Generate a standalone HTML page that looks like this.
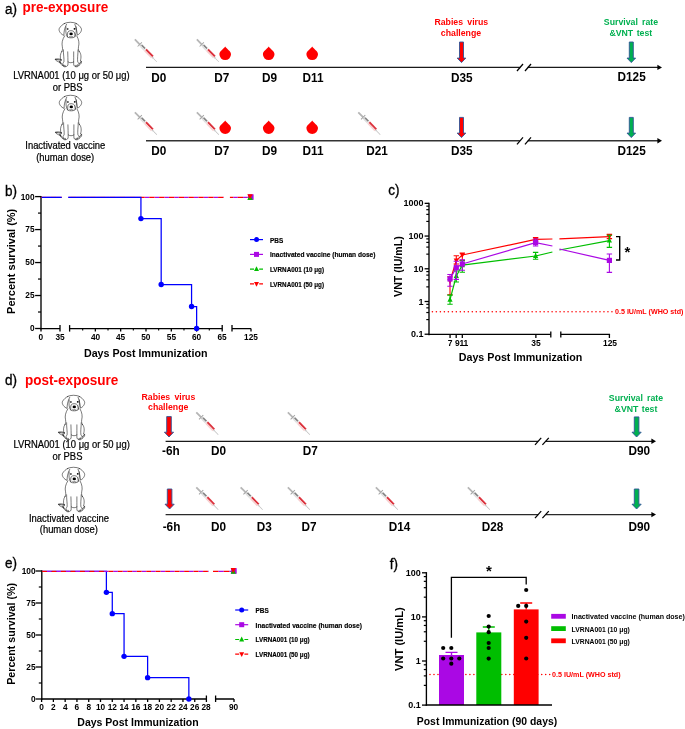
<!DOCTYPE html>
<html><head><meta charset="utf-8"><title>Figure</title>
<style>html,body{margin:0;padding:0;background:#fff}svg{display:block}text{font-family:"Liberation Sans",sans-serif}</style>
</head><body>
<svg width="685" height="729" viewBox="0 0 685 729" font-family="Liberation Sans, sans-serif">
<defs><g id="dog" fill="none" stroke="#111" stroke-width="7.5" stroke-linecap="round" stroke-linejoin="round">
<path d="M236,86 C275,62 365,62 404,86"/>
<path d="M244,84 C218,94 184,124 169,156 C160,186 192,232 233,246 C232,205 240,150 268,96"/>
<path d="M396,84 C422,94 456,124 469,156 C478,186 446,230 414,242 C412,205 402,150 381,96"/>
<path d="M261,130 C254,190 260,235 281,270 C305,282 350,282 376,270 C398,235 404,190 399,130"/>
<path d="M282,262 C280,240 282,215 287,200 C295,176 362,176 372,200 C378,215 382,240 384,258"/>
<path d="M308,262 C318,272 325,268 330,260 C335,268 344,272 354,262"/>
<path d="M243,252 C212,300 200,350 212,400 C218,430 212,448 205,465"/>
<path d="M407,252 C434,300 444,350 430,400 C425,430 432,448 440,465"/>
<path d="M206,460 C180,495 178,545 195,592 C170,602 170,628 216,652"/>
<path d="M439,460 C470,495 468,545 455,592 C478,602 476,628 434,652"/>
<path d="M226,440 C224,500 238,560 233,605 C206,632 210,668 245,670 C276,670 290,652 288,632 C284,570 290,515 285,468"/>
<path d="M365,468 C362,515 368,570 365,632 C363,652 376,670 405,670 C440,668 446,632 420,605 C412,560 424,500 424,440"/>
<path d="M290,604 C310,620 342,620 365,604"/>
<path d="M200,572 C170,560 128,560 114,568 C118,585 150,600 186,614"/>
<path d="M172,596 C174,610 186,620 200,624 M470,596 C468,610 456,620 442,624 M226,644 l6,16 M246,650 l3,14 M416,644 l-6,16 M396,650 l-3,14" stroke-width="10"/>
<path d="M118,570 C140,574 170,578 196,580" stroke-width="9"/>
<ellipse cx="330" cy="226" rx="23" ry="19" fill="#000" stroke="none"/>
<ellipse cx="284" cy="160" rx="13" ry="11" fill="#000" stroke="none"/>
<ellipse cx="377" cy="158" rx="13" ry="11" fill="#000" stroke="none"/>
</g><g id="syr">
<rect x="0" y="-0.9" width="6.8" height="1.8" fill="#b0b0b0"/>
<rect x="6.5" y="-3.0" width="0.9" height="6.0" fill="#999"/>
<rect x="7.4" y="-1.2" width="1.3" height="2.4" fill="#c4c4c4"/>
<rect x="8.7" y="-1.8" width="4.9" height="1.8" fill="#7a7a7a"/>
<rect x="8.7" y="0" width="4.9" height="1.6" fill="#dcdcdc"/>
<rect x="13.6" y="-1.8" width="1.3" height="3.4" fill="#e9e3e3"/>
<rect x="14.9" y="-1.9" width="9.9" height="2.0" fill="#d9212d"/>
<rect x="14.9" y="0.1" width="9.9" height="1.6" fill="#f7cccc"/>
<rect x="24.8" y="-0.8" width="1.4" height="1.6" fill="#c4c4c4"/>
<rect x="26.2" y="-0.3" width="5.2" height="0.6" fill="#b4b4b4"/>
</g></defs>
<rect width="685" height="729" fill="#fff"/>
<text transform="translate(5.1 13.7) scale(1 1.08)" font-size="13.5" font-weight="normal" fill="#000" text-anchor="start" stroke="#000" stroke-width="0.3">a)</text>
<text transform="translate(22.4 12.4) scale(1 1.06)" font-size="13.55" font-weight="bold" fill="#FF0000" text-anchor="start" >pre-exposure</text>
<use href="#dog" transform="translate(46.66,17.19) scale(0.07402)"/>
<text transform="translate(71.4 79.4) scale(1 1.08)" font-size="9.43" font-weight="normal" fill="#000" text-anchor="middle" stroke="#000" stroke-width="0.2">LVRNA001 (10 μg or 50 μg)</text>
<text transform="translate(67.6 91) scale(1 1.08)" font-size="9.43" font-weight="normal" fill="#000" text-anchor="middle" stroke="#000" stroke-width="0.2">or PBS</text>
<use href="#dog" transform="translate(46.86,90.19) scale(0.07402)"/>
<text transform="translate(65.3 149) scale(1 1.08)" font-size="9.43" font-weight="normal" fill="#000" text-anchor="middle" stroke="#000" stroke-width="0.2">Inactivated vaccine</text>
<text transform="translate(65.2 160.6) scale(1 1.08)" font-size="9.43" font-weight="normal" fill="#000" text-anchor="middle" stroke="#000" stroke-width="0.2">(human dose)</text>
<path d="M146,67.4 H519.8 M527.8,67.4 H659" stroke="#1a1a1a" stroke-width="1.35" fill="none"/>
<polygon points="662,67.4 657.4,64.7 657.4,70.10000000000001" fill="#000"/>
<line x1="517" y1="71.0" x2="523" y2="64.0" stroke="#000" stroke-width="1.25"/>
<line x1="525" y1="71.0" x2="531" y2="64.0" stroke="#000" stroke-width="1.25"/>
<path d="M146,140.8 H519.8 M527.8,140.8 H659" stroke="#333" stroke-width="1.5" fill="none"/>
<polygon points="662,140.8 657.4,138.10000000000002 657.4,143.5" fill="#000"/>
<line x1="517" y1="144.4" x2="523" y2="137.4" stroke="#000" stroke-width="1.25"/>
<line x1="525" y1="144.4" x2="531" y2="137.4" stroke="#000" stroke-width="1.25"/>
<use href="#syr" opacity="0.92" transform="translate(134.87,39.49) rotate(45.5)"/>
<use href="#syr" opacity="0.92" transform="translate(196.87,39.49) rotate(45.5)"/>
<use href="#syr" opacity="0.92" transform="translate(134.87,112.29) rotate(45.5)"/>
<use href="#syr" opacity="0.92" transform="translate(196.87,112.29) rotate(45.5)"/>
<use href="#syr" opacity="0.92" transform="translate(358.27,112.29) rotate(45.5)"/>
<path transform="translate(225.2,46.6)" d="M0,0 C1.6,2.6 5.8,4.6 5.8,7.7 A5.8,5.8 0 1 1 -5.8,7.7 C-5.8,4.6 -1.6,2.6 0,0 Z" fill="#FF0000"/>
<path transform="translate(225.2,120.4)" d="M0,0 C1.6,2.6 5.8,4.6 5.8,7.7 A5.8,5.8 0 1 1 -5.8,7.7 C-5.8,4.6 -1.6,2.6 0,0 Z" fill="#FF0000"/>
<path transform="translate(268.7,46.6)" d="M0,0 C1.6,2.6 5.8,4.6 5.8,7.7 A5.8,5.8 0 1 1 -5.8,7.7 C-5.8,4.6 -1.6,2.6 0,0 Z" fill="#FF0000"/>
<path transform="translate(268.7,120.4)" d="M0,0 C1.6,2.6 5.8,4.6 5.8,7.7 A5.8,5.8 0 1 1 -5.8,7.7 C-5.8,4.6 -1.6,2.6 0,0 Z" fill="#FF0000"/>
<path transform="translate(312.2,46.6)" d="M0,0 C1.6,2.6 5.8,4.6 5.8,7.7 A5.8,5.8 0 1 1 -5.8,7.7 C-5.8,4.6 -1.6,2.6 0,0 Z" fill="#FF0000"/>
<path transform="translate(312.2,120.4)" d="M0,0 C1.6,2.6 5.8,4.6 5.8,7.7 A5.8,5.8 0 1 1 -5.8,7.7 C-5.8,4.6 -1.6,2.6 0,0 Z" fill="#FF0000"/>
<text transform="translate(158.8 82) scale(1 1.08)" font-size="11.8" font-weight="bold" fill="#000" text-anchor="middle" >D0</text>
<text transform="translate(221.7 82) scale(1 1.08)" font-size="11.8" font-weight="bold" fill="#000" text-anchor="middle" >D7</text>
<text transform="translate(269.5 82) scale(1 1.08)" font-size="11.8" font-weight="bold" fill="#000" text-anchor="middle" >D9</text>
<text transform="translate(313 82) scale(1 1.08)" font-size="11.8" font-weight="bold" fill="#000" text-anchor="middle" >D11</text>
<text transform="translate(461.7 82) scale(1 1.08)" font-size="11.8" font-weight="bold" fill="#000" text-anchor="middle" >D35</text>
<text transform="translate(631.6 81) scale(1 1.08)" font-size="11.8" font-weight="bold" fill="#000" text-anchor="middle" >D125</text>
<text transform="translate(158.8 155.3) scale(1 1.08)" font-size="11.8" font-weight="bold" fill="#000" text-anchor="middle" >D0</text>
<text transform="translate(221.7 155.3) scale(1 1.08)" font-size="11.8" font-weight="bold" fill="#000" text-anchor="middle" >D7</text>
<text transform="translate(269.5 155.3) scale(1 1.08)" font-size="11.8" font-weight="bold" fill="#000" text-anchor="middle" >D9</text>
<text transform="translate(313 155.3) scale(1 1.08)" font-size="11.8" font-weight="bold" fill="#000" text-anchor="middle" >D11</text>
<text transform="translate(377 155.3) scale(1 1.08)" font-size="11.8" font-weight="bold" fill="#000" text-anchor="middle" >D21</text>
<text transform="translate(461.7 155.3) scale(1 1.08)" font-size="11.8" font-weight="bold" fill="#000" text-anchor="middle" >D35</text>
<text transform="translate(631.6 155.3) scale(1 1.08)" font-size="11.8" font-weight="bold" fill="#000" text-anchor="middle" >D125</text>
<text transform="translate(461.3 25) scale(1 1.09)" font-size="8.75" font-weight="bold" fill="#FF0000" text-anchor="middle" word-spacing="1.8">Rabies virus</text>
<text transform="translate(461 36) scale(1 1.09)" font-size="8.75" font-weight="bold" fill="#FF0000" text-anchor="middle" >challenge</text>
<text transform="translate(631 25) scale(1 1.09)" font-size="8.75" font-weight="bold" fill="#00B050" text-anchor="middle" word-spacing="1.8">Survival rate</text>
<text transform="translate(630.8 36) scale(1 1.09)" font-size="8.75" font-weight="bold" fill="#00B050" text-anchor="middle" word-spacing="1">&amp;VNT test</text>
<polygon points="459.50,42.00 463.50,42.00 463.50,58.10 465.80,58.10 461.50,62.60 457.20,58.10 459.50,58.10" fill="#FF0000" stroke="#2F5597" stroke-width="0.9" stroke-linejoin="miter"/>
<polygon points="629.30,42.00 633.30,42.00 633.30,58.10 635.60,58.10 631.30,62.60 627.00,58.10 629.30,58.10" fill="#00B050" stroke="#2F5597" stroke-width="0.9" stroke-linejoin="miter"/>
<polygon points="459.50,117.40 463.50,117.40 463.50,133.10 465.80,133.10 461.50,137.60 457.20,133.10 459.50,133.10" fill="#FF0000" stroke="#2F5597" stroke-width="0.9" stroke-linejoin="miter"/>
<polygon points="629.30,117.40 633.30,117.40 633.30,133.10 635.60,133.10 631.30,137.60 627.00,133.10 629.30,133.10" fill="#00B050" stroke="#2F5597" stroke-width="0.9" stroke-linejoin="miter"/>
<text transform="translate(5.1 385) scale(1 1.08)" font-size="13.5" font-weight="normal" fill="#000" text-anchor="start" stroke="#000" stroke-width="0.3">d)</text>
<text transform="translate(25 384.6) scale(1 1.06)" font-size="13.55" font-weight="bold" fill="#FF0000" text-anchor="start" >post-exposure</text>
<use href="#dog" transform="translate(49.86,390.19) scale(0.07402)"/>
<text transform="translate(71.6 448) scale(1 1.08)" font-size="9.43" font-weight="normal" fill="#000" text-anchor="middle" stroke="#000" stroke-width="0.2">LVRNA001 (10 μg or 50 μg)</text>
<text transform="translate(67.5 459.6) scale(1 1.08)" font-size="9.43" font-weight="normal" fill="#000" text-anchor="middle" stroke="#000" stroke-width="0.2">or PBS</text>
<use href="#dog" transform="translate(49.86,462.19) scale(0.07402)"/>
<text transform="translate(69 521.6) scale(1 1.08)" font-size="9.43" font-weight="normal" fill="#000" text-anchor="middle" stroke="#000" stroke-width="0.2">Inactivated vaccine</text>
<text transform="translate(68.8 533) scale(1 1.08)" font-size="9.43" font-weight="normal" fill="#000" text-anchor="middle" stroke="#000" stroke-width="0.2">(human dose)</text>
<path d="M165.6,441.3 H538.2 M545.6,441.3 H653" stroke="#1a1a1a" stroke-width="1.3" fill="none"/>
<polygon points="656,441.3 651.4,438.6 651.4,444.0" fill="#000"/>
<line x1="535" y1="444.90000000000003" x2="541.2" y2="437.90000000000003" stroke="#000" stroke-width="1.25"/>
<line x1="542.4" y1="444.90000000000003" x2="548.8" y2="437.90000000000003" stroke="#000" stroke-width="1.25"/>
<path d="M165.6,514.6 H538.2 M545.6,514.6 H653" stroke="#2a2a2a" stroke-width="1.4" fill="none"/>
<polygon points="656,514.6 651.4,511.90000000000003 651.4,517.3000000000001" fill="#000"/>
<line x1="535" y1="518.2" x2="541.2" y2="511.20000000000005" stroke="#000" stroke-width="1.25"/>
<line x1="542.4" y1="518.2" x2="548.8" y2="511.20000000000005" stroke="#000" stroke-width="1.25"/>
<use href="#syr" opacity="0.92" transform="translate(196.27,412.29) rotate(45.5)"/>
<use href="#syr" opacity="0.92" transform="translate(287.87,412.29) rotate(45.5)"/>
<use href="#syr" opacity="0.92" transform="translate(196.27,487.29) rotate(45.5)"/>
<use href="#syr" opacity="0.92" transform="translate(240.67,487.29) rotate(45.5)"/>
<use href="#syr" opacity="0.92" transform="translate(287.87,487.29) rotate(45.5)"/>
<use href="#syr" opacity="0.92" transform="translate(375.87,487.29) rotate(45.5)"/>
<use href="#syr" opacity="0.92" transform="translate(467.87,487.29) rotate(45.5)"/>
<text transform="translate(170.8 454.6) scale(1 1.08)" font-size="11.8" font-weight="bold" fill="#000" text-anchor="middle" >-6h</text>
<text transform="translate(218.5 454.6) scale(1 1.08)" font-size="11.8" font-weight="bold" fill="#000" text-anchor="middle" >D0</text>
<text transform="translate(310.3 454.6) scale(1 1.08)" font-size="11.8" font-weight="bold" fill="#000" text-anchor="middle" >D7</text>
<text transform="translate(639.2 454.6) scale(1 1.08)" font-size="11.8" font-weight="bold" fill="#000" text-anchor="middle" >D90</text>
<text transform="translate(171.5 530.5) scale(1 1.08)" font-size="11.8" font-weight="bold" fill="#000" text-anchor="middle" >-6h</text>
<text transform="translate(218.5 530.5) scale(1 1.08)" font-size="11.8" font-weight="bold" fill="#000" text-anchor="middle" >D0</text>
<text transform="translate(264.2 530.5) scale(1 1.08)" font-size="11.8" font-weight="bold" fill="#000" text-anchor="middle" >D3</text>
<text transform="translate(309 530.5) scale(1 1.08)" font-size="11.8" font-weight="bold" fill="#000" text-anchor="middle" >D7</text>
<text transform="translate(399.5 530.5) scale(1 1.08)" font-size="11.8" font-weight="bold" fill="#000" text-anchor="middle" >D14</text>
<text transform="translate(492.5 530.5) scale(1 1.08)" font-size="11.8" font-weight="bold" fill="#000" text-anchor="middle" >D28</text>
<text transform="translate(639.2 530.5) scale(1 1.08)" font-size="11.8" font-weight="bold" fill="#000" text-anchor="middle" >D90</text>
<text transform="translate(168.4 399.6) scale(1 1.09)" font-size="8.75" font-weight="bold" fill="#FF0000" text-anchor="middle" word-spacing="1.8">Rabies virus</text>
<text transform="translate(168.2 410.4) scale(1 1.09)" font-size="8.75" font-weight="bold" fill="#FF0000" text-anchor="middle" >challenge</text>
<text transform="translate(636 401.2) scale(1 1.09)" font-size="8.75" font-weight="bold" fill="#00B050" text-anchor="middle" word-spacing="1.8">Survival rate</text>
<text transform="translate(636 412) scale(1 1.09)" font-size="8.75" font-weight="bold" fill="#00B050" text-anchor="middle" word-spacing="1">&amp;VNT test</text>
<polygon points="166.70,416.60 171.30,416.60 171.30,432.20 173.60,432.20 169.00,437.00 164.40,432.20 166.70,432.20" fill="#FF0000" stroke="#2F5597" stroke-width="0.9" stroke-linejoin="miter"/>
<polygon points="634.30,416.90 638.90,416.90 638.90,432.20 641.20,432.20 636.60,437.00 632.00,432.20 634.30,432.20" fill="#00B050" stroke="#2F5597" stroke-width="0.9" stroke-linejoin="miter"/>
<polygon points="167.30,489.00 171.90,489.00 171.90,504.20 174.20,504.20 169.60,509.00 165.00,504.20 167.30,504.20" fill="#FF0000" stroke="#2F5597" stroke-width="0.9" stroke-linejoin="miter"/>
<polygon points="634.30,489.00 638.90,489.00 638.90,504.20 641.20,504.20 636.60,509.00 632.00,504.20 634.30,504.20" fill="#00B050" stroke="#2F5597" stroke-width="0.9" stroke-linejoin="miter"/>
<text transform="translate(5.1 195.6) scale(1 1.08)" font-size="13.5" font-weight="normal" fill="#000" text-anchor="start" stroke="#000" stroke-width="0.3">b)</text>
<path d="M41,195.9 V329.25" stroke="#000" stroke-width="1.35" fill="none"/>
<line x1="35.1" y1="328.50" x2="41" y2="328.50" stroke="#000" stroke-width="1.3"/>
<text transform="translate(34.5 331.4) scale(1 1.04)" font-size="8.3" font-weight="bold" fill="#000" text-anchor="end" >0</text>
<line x1="35.1" y1="295.52" x2="41" y2="295.52" stroke="#000" stroke-width="1.3"/>
<text transform="translate(34.5 298.42) scale(1 1.04)" font-size="8.3" font-weight="bold" fill="#000" text-anchor="end" >25</text>
<line x1="35.1" y1="262.55" x2="41" y2="262.55" stroke="#000" stroke-width="1.3"/>
<text transform="translate(34.5 265.45) scale(1 1.04)" font-size="8.3" font-weight="bold" fill="#000" text-anchor="end" >50</text>
<line x1="35.1" y1="229.57" x2="41" y2="229.57" stroke="#000" stroke-width="1.3"/>
<text transform="translate(34.5 232.47) scale(1 1.04)" font-size="8.3" font-weight="bold" fill="#000" text-anchor="end" >75</text>
<line x1="35.1" y1="196.60" x2="41" y2="196.60" stroke="#000" stroke-width="1.3"/>
<text transform="translate(34.5 199.5) scale(1 1.04)" font-size="8.3" font-weight="bold" fill="#000" text-anchor="end" >100</text>
<line x1="38" y1="312.01" x2="41" y2="312.01" stroke="#000" stroke-width="1.2"/>
<line x1="38" y1="279.04" x2="41" y2="279.04" stroke="#000" stroke-width="1.2"/>
<line x1="38" y1="246.06" x2="41" y2="246.06" stroke="#000" stroke-width="1.2"/>
<line x1="38" y1="213.09" x2="41" y2="213.09" stroke="#000" stroke-width="1.2"/>
<path d="M40.3,328.6 H60 M69.6,328.6 H222.2 M232,328.6 H251" stroke="#000" stroke-width="1.35" fill="none"/>
<line x1="60" y1="325.1" x2="60" y2="331.6" stroke="#000" stroke-width="1.3"/>
<line x1="69.6" y1="325.1" x2="69.6" y2="331.6" stroke="#000" stroke-width="1.3"/>
<line x1="222.2" y1="325.1" x2="222.2" y2="331.6" stroke="#000" stroke-width="1.3"/>
<line x1="232" y1="325.1" x2="232" y2="331.6" stroke="#000" stroke-width="1.3"/>
<line x1="41" y1="328.6" x2="41" y2="331.6" stroke="#000" stroke-width="1.3"/>
<line x1="251" y1="328.6" x2="251" y2="331.6" stroke="#000" stroke-width="1.3"/>
<line x1="95.35" y1="328.6" x2="95.35" y2="331.6" stroke="#000" stroke-width="1.3"/>
<line x1="120.67" y1="328.6" x2="120.67" y2="331.6" stroke="#000" stroke-width="1.3"/>
<line x1="145.99" y1="328.6" x2="145.99" y2="331.6" stroke="#000" stroke-width="1.3"/>
<line x1="171.31" y1="328.6" x2="171.31" y2="331.6" stroke="#000" stroke-width="1.3"/>
<line x1="196.63" y1="328.6" x2="196.63" y2="331.6" stroke="#000" stroke-width="1.3"/>
<line x1="82.69" y1="328.6" x2="82.69" y2="330.6" stroke="#000" stroke-width="1.1"/>
<line x1="108.01" y1="328.6" x2="108.01" y2="330.6" stroke="#000" stroke-width="1.1"/>
<line x1="133.33" y1="328.6" x2="133.33" y2="330.6" stroke="#000" stroke-width="1.1"/>
<line x1="158.65" y1="328.6" x2="158.65" y2="330.6" stroke="#000" stroke-width="1.1"/>
<line x1="183.97" y1="328.6" x2="183.97" y2="330.6" stroke="#000" stroke-width="1.1"/>
<line x1="209.29" y1="328.6" x2="209.29" y2="330.6" stroke="#000" stroke-width="1.1"/>
<text x="40.8" y="340" font-size="8.3" font-weight="bold" fill="#000" text-anchor="middle" >0</text>
<text x="60" y="340" font-size="8.3" font-weight="bold" fill="#000" text-anchor="middle" >35</text>
<text x="95.5" y="340" font-size="8.3" font-weight="bold" fill="#000" text-anchor="middle" >40</text>
<text x="120.6" y="340" font-size="8.3" font-weight="bold" fill="#000" text-anchor="middle" >45</text>
<text x="145.8" y="340" font-size="8.3" font-weight="bold" fill="#000" text-anchor="middle" >50</text>
<text x="171.4" y="340" font-size="8.3" font-weight="bold" fill="#000" text-anchor="middle" >55</text>
<text x="196.5" y="340" font-size="8.3" font-weight="bold" fill="#000" text-anchor="middle" >60</text>
<text x="222" y="340" font-size="8.3" font-weight="bold" fill="#000" text-anchor="middle" >65</text>
<text x="251" y="340" font-size="8.3" font-weight="bold" fill="#000" text-anchor="middle" >125</text>
<text x="145.7" y="357" font-size="10.7" font-weight="bold" fill="#000" text-anchor="middle" >Days Post Immunization</text>
<text transform="translate(14.8,261.3) rotate(-90)" font-size="11" font-weight="bold" fill="#000" text-anchor="middle" >Percent survival (%)</text>
<path d="M41,197.45 H250.5" stroke="#AA08E4" stroke-width="1.2" fill="none" stroke-dasharray="4.54 5.3" stroke-dashoffset="-5.3"/>
<path d="M41,197.45 H250.5" stroke="#FF0000" stroke-width="1.2" fill="none" stroke-dasharray="5.3 4.54"/>
<rect x="61.7" y="195.95" width="6.6" height="3" fill="#fff"/><rect x="223.8" y="195.95" width="6.1" height="3" fill="#fff"/>
<path d="M41.5,197.45 H61.7 M68.3,197.45 H140.93 H140.93 V218.59 H161.18 V284.54 H191.57 V306.51 H196.63 V328.50" stroke="#0000FF" stroke-width="1.25" fill="none"/>
<circle cx="140.93" cy="218.59" r="2.7" fill="#0000FF"/>
<circle cx="161.18" cy="284.54" r="2.7" fill="#0000FF"/>
<circle cx="191.57" cy="306.51" r="2.7" fill="#0000FF"/>
<circle cx="196.63" cy="328.5" r="2.7" fill="#0000FF"/>
<rect x="248.0" y="194.3" width="5.60" height="5.60" fill="#AA08E4"/>
<polygon points="247.3,199.9 252.7,199.9 250.0,194.60000000000002" fill="#00BE00"/>
<polygon points="247.3,194.3 252.7,194.3 250.0,199.3" fill="#FF0000"/>
<line x1="250.0" y1="239.6" x2="263.0" y2="239.6" stroke="#0000FF" stroke-width="1.2"/>
<circle cx="256.5" cy="239.6" r="2.5" fill="#0000FF"/>
<text x="270" y="242.5" font-size="6.4" font-weight="bold" fill="#000" text-anchor="start"  stroke="#000" stroke-width="0.15">PBS</text>
<line x1="250.0" y1="254.4" x2="263.0" y2="254.4" stroke="#AA08E4" stroke-width="1.2"/>
<rect x="254.0" y="251.9" width="5.0" height="5.0" fill="#AA08E4"/>
<text x="270" y="257.3" font-size="6.4" font-weight="bold" fill="#000" text-anchor="start" textLength="105.5" lengthAdjust="spacingAndGlyphs" stroke="#000" stroke-width="0.15">Inactivated vaccine (human dose)</text>
<path d="M250.0,269.1 h4 M259.2,269.1 h3.8" stroke="#00BE00" stroke-width="1.2"/>
<polygon points="256.5,266.20000000000005 259.0,271.0 254.0,271.0" fill="#00BE00"/>
<text x="270" y="272.0" font-size="6.4" font-weight="bold" fill="#000" text-anchor="start" textLength="54" lengthAdjust="spacingAndGlyphs" stroke="#000" stroke-width="0.15">LVRNA001 (10 μg)</text>
<path d="M250.0,283.8 h4 M259.2,283.8 h3.8" stroke="#FF0000" stroke-width="1.2"/>
<polygon points="256.5,286.7 259.0,281.90000000000003 254.0,281.90000000000003" fill="#FF0000"/>
<text x="270" y="286.7" font-size="6.4" font-weight="bold" fill="#000" text-anchor="start" textLength="54" lengthAdjust="spacingAndGlyphs" stroke="#000" stroke-width="0.15">LVRNA001 (50 μg)</text>
<text transform="translate(5.1 568.4) scale(1 1.08)" font-size="13.5" font-weight="normal" fill="#000" text-anchor="start" stroke="#000" stroke-width="0.3">e)</text>
<path d="M41.8,570.3 V699.75" stroke="#000" stroke-width="1.35" fill="none"/>
<line x1="35.6" y1="699.00" x2="41.8" y2="699.00" stroke="#000" stroke-width="1.3"/>
<text transform="translate(35.5 701.9) scale(1 1.04)" font-size="8.3" font-weight="bold" fill="#000" text-anchor="end" >0</text>
<line x1="35.6" y1="667.00" x2="41.8" y2="667.00" stroke="#000" stroke-width="1.3"/>
<text transform="translate(35.5 669.9) scale(1 1.04)" font-size="8.3" font-weight="bold" fill="#000" text-anchor="end" >25</text>
<line x1="35.6" y1="635.00" x2="41.8" y2="635.00" stroke="#000" stroke-width="1.3"/>
<text transform="translate(35.5 637.9) scale(1 1.04)" font-size="8.3" font-weight="bold" fill="#000" text-anchor="end" >50</text>
<line x1="35.6" y1="603.00" x2="41.8" y2="603.00" stroke="#000" stroke-width="1.3"/>
<text transform="translate(35.5 605.9) scale(1 1.04)" font-size="8.3" font-weight="bold" fill="#000" text-anchor="end" >75</text>
<line x1="35.6" y1="571.00" x2="41.8" y2="571.00" stroke="#000" stroke-width="1.3"/>
<text transform="translate(35.5 573.9) scale(1 1.04)" font-size="8.3" font-weight="bold" fill="#000" text-anchor="end" >100</text>
<line x1="38.8" y1="683.00" x2="41.8" y2="683.00" stroke="#000" stroke-width="1.2"/>
<line x1="38.8" y1="651.00" x2="41.8" y2="651.00" stroke="#000" stroke-width="1.2"/>
<line x1="38.8" y1="619.00" x2="41.8" y2="619.00" stroke="#000" stroke-width="1.2"/>
<line x1="38.8" y1="587.00" x2="41.8" y2="587.00" stroke="#000" stroke-width="1.2"/>
<path d="M41.1,699 H206.4 M215.6,699 H234" stroke="#000" stroke-width="1.35" fill="none"/>
<line x1="206.4" y1="695.5" x2="206.4" y2="702" stroke="#000" stroke-width="1.3"/>
<line x1="215.6" y1="695.5" x2="215.6" y2="702" stroke="#000" stroke-width="1.3"/>
<line x1="234" y1="699" x2="234" y2="702" stroke="#000" stroke-width="1.3"/>
<line x1="41.60" y1="699" x2="41.60" y2="702" stroke="#000" stroke-width="1.3"/>
<text x="41.6" y="709.6" font-size="8.3" font-weight="bold" fill="#000" text-anchor="middle" >0</text>
<line x1="53.38" y1="699" x2="53.38" y2="702" stroke="#000" stroke-width="1.3"/>
<text x="53.4" y="709.6" font-size="8.3" font-weight="bold" fill="#000" text-anchor="middle" >2</text>
<line x1="65.16" y1="699" x2="65.16" y2="702" stroke="#000" stroke-width="1.3"/>
<text x="65.2" y="709.6" font-size="8.3" font-weight="bold" fill="#000" text-anchor="middle" >4</text>
<line x1="76.94" y1="699" x2="76.94" y2="702" stroke="#000" stroke-width="1.3"/>
<text x="76.9" y="709.6" font-size="8.3" font-weight="bold" fill="#000" text-anchor="middle" >6</text>
<line x1="88.72" y1="699" x2="88.72" y2="702" stroke="#000" stroke-width="1.3"/>
<text x="88.7" y="709.6" font-size="8.3" font-weight="bold" fill="#000" text-anchor="middle" >8</text>
<line x1="100.50" y1="699" x2="100.50" y2="702" stroke="#000" stroke-width="1.3"/>
<text x="100.5" y="709.6" font-size="8.3" font-weight="bold" fill="#000" text-anchor="middle" >10</text>
<line x1="112.28" y1="699" x2="112.28" y2="702" stroke="#000" stroke-width="1.3"/>
<text x="112.3" y="709.6" font-size="8.3" font-weight="bold" fill="#000" text-anchor="middle" >12</text>
<line x1="124.06" y1="699" x2="124.06" y2="702" stroke="#000" stroke-width="1.3"/>
<text x="124.1" y="709.6" font-size="8.3" font-weight="bold" fill="#000" text-anchor="middle" >14</text>
<line x1="135.84" y1="699" x2="135.84" y2="702" stroke="#000" stroke-width="1.3"/>
<text x="135.8" y="709.6" font-size="8.3" font-weight="bold" fill="#000" text-anchor="middle" >16</text>
<line x1="147.62" y1="699" x2="147.62" y2="702" stroke="#000" stroke-width="1.3"/>
<text x="147.6" y="709.6" font-size="8.3" font-weight="bold" fill="#000" text-anchor="middle" >18</text>
<line x1="159.40" y1="699" x2="159.40" y2="702" stroke="#000" stroke-width="1.3"/>
<text x="159.4" y="709.6" font-size="8.3" font-weight="bold" fill="#000" text-anchor="middle" >20</text>
<line x1="171.18" y1="699" x2="171.18" y2="702" stroke="#000" stroke-width="1.3"/>
<text x="171.2" y="709.6" font-size="8.3" font-weight="bold" fill="#000" text-anchor="middle" >22</text>
<line x1="182.96" y1="699" x2="182.96" y2="702" stroke="#000" stroke-width="1.3"/>
<text x="183.0" y="709.6" font-size="8.3" font-weight="bold" fill="#000" text-anchor="middle" >24</text>
<line x1="194.74" y1="699" x2="194.74" y2="702" stroke="#000" stroke-width="1.3"/>
<text x="194.7" y="709.6" font-size="8.3" font-weight="bold" fill="#000" text-anchor="middle" >26</text>
<text x="206" y="709.6" font-size="8.3" font-weight="bold" fill="#000" text-anchor="middle" >28</text>
<text x="233.6" y="709.6" font-size="8.3" font-weight="bold" fill="#000" text-anchor="middle" >90</text>
<text x="138" y="726.4" font-size="10.5" font-weight="bold" fill="#000" text-anchor="middle" >Days Post Immunization</text>
<text transform="translate(15.4,633.9) rotate(-90)" font-size="10.65" font-weight="bold" fill="#000" text-anchor="middle" >Percent survival (%)</text>
<path d="M42.3,571.45 H106.39 H106.39 V592.34 H112.28 V613.66 H124.06 V656.34 H147.62 V677.66 H188.85 V699.00" stroke="#0000FF" stroke-width="1.25" fill="none"/>
<path d="M42.1,571.45 H233.8" stroke="#AA08E4" stroke-width="1.2" fill="none" stroke-dasharray="4.67 4.8" stroke-dashoffset="-4.8"/>
<path d="M42.1,571.45 H233.8" stroke="#FF0000" stroke-width="1.2" fill="none" stroke-dasharray="4.8 4.67"/>
<rect x="208.6" y="569.95" width="26" height="3" fill="#fff"/>
<path d="M218.3,571.45 H223.8 M229.2,571.45 H233" stroke="#AA08E4" stroke-width="1.2" fill="none"/>
<path d="M213,571.45 H218.3 M223.8,571.45 H229.2" stroke="#FF0000" stroke-width="1.2" fill="none"/>
<circle cx="106.39" cy="592.34" r="2.7" fill="#0000FF"/>
<circle cx="112.28" cy="613.66" r="2.7" fill="#0000FF"/>
<circle cx="124.06" cy="656.34" r="2.7" fill="#0000FF"/>
<circle cx="147.62" cy="677.66" r="2.7" fill="#0000FF"/>
<circle cx="188.85" cy="699.0" r="2.7" fill="#0000FF"/>
<rect x="231.1" y="568.1" width="5.60" height="5.70" fill="#AA08E4"/>
<polygon points="230.6,573.8 235.9,573.8 233.25,568.4" fill="#00BE00"/>
<polygon points="230.6,568.1 235.9,568.1 233.25,573.1999999999999" fill="#FF0000"/>
<line x1="235.2" y1="610" x2="248.2" y2="610" stroke="#0000FF" stroke-width="1.2"/>
<circle cx="241.7" cy="610" r="2.5" fill="#0000FF"/>
<text x="255.6" y="612.9" font-size="6.4" font-weight="bold" fill="#000" text-anchor="start"  stroke="#000" stroke-width="0.15">PBS</text>
<line x1="235.2" y1="624.7" x2="248.2" y2="624.7" stroke="#AA08E4" stroke-width="1.2"/>
<rect x="239.2" y="622.2" width="5.0" height="5.0" fill="#AA08E4"/>
<text x="255.6" y="627.6" font-size="6.4" font-weight="bold" fill="#000" text-anchor="start" textLength="106.4" lengthAdjust="spacingAndGlyphs" stroke="#000" stroke-width="0.15">Inactivated vaccine (human dose)</text>
<path d="M235.2,639.5 h4 M244.39999999999998,639.5 h3.8" stroke="#00BE00" stroke-width="1.2"/>
<polygon points="241.7,636.6 244.2,641.4 239.2,641.4" fill="#00BE00"/>
<text x="255.6" y="642.4" font-size="6.4" font-weight="bold" fill="#000" text-anchor="start" textLength="54" lengthAdjust="spacingAndGlyphs" stroke="#000" stroke-width="0.15">LVRNA001 (10 μg)</text>
<path d="M235.2,654.1 h4 M244.39999999999998,654.1 h3.8" stroke="#FF0000" stroke-width="1.2"/>
<polygon points="241.7,657.0 244.2,652.2 239.2,652.2" fill="#FF0000"/>
<text x="255.6" y="657.0" font-size="6.4" font-weight="bold" fill="#000" text-anchor="start" textLength="54" lengthAdjust="spacingAndGlyphs" stroke="#000" stroke-width="0.15">LVRNA001 (50 μg)</text>
<text transform="translate(388.2 195.4) scale(1 1.08)" font-size="13.5" font-weight="normal" fill="#000" text-anchor="start" stroke="#000" stroke-width="0.3">c)</text>
<path d="M429,202.64000000000001 V335.15" stroke="#000" stroke-width="1.35" fill="none"/>
<line x1="424.6" y1="334.22" x2="429" y2="334.22" stroke="#000" stroke-width="1.3"/>
<text transform="translate(423.4 337.37) scale(1 1.05)" font-size="9.0" font-weight="bold" fill="#000" text-anchor="end" >0.1</text>
<line x1="424.6" y1="301.50" x2="429" y2="301.50" stroke="#000" stroke-width="1.3"/>
<text transform="translate(423.4 304.65) scale(1 1.05)" font-size="9.0" font-weight="bold" fill="#000" text-anchor="end" >1</text>
<line x1="424.6" y1="268.78" x2="429" y2="268.78" stroke="#000" stroke-width="1.3"/>
<text transform="translate(423.4 271.93) scale(1 1.05)" font-size="9.0" font-weight="bold" fill="#000" text-anchor="end" >10</text>
<line x1="424.6" y1="236.06" x2="429" y2="236.06" stroke="#000" stroke-width="1.3"/>
<text transform="translate(423.4 239.21) scale(1 1.05)" font-size="9.0" font-weight="bold" fill="#000" text-anchor="end" >100</text>
<line x1="424.6" y1="203.34" x2="429" y2="203.34" stroke="#000" stroke-width="1.3"/>
<text transform="translate(423.4 206.49) scale(1 1.05)" font-size="9.0" font-weight="bold" fill="#000" text-anchor="end" >1000</text>
<line x1="426.3" y1="319.59" x2="429" y2="319.59" stroke="#000" stroke-width="1.2"/>
<line x1="426.3" y1="312.53" x2="429" y2="312.53" stroke="#000" stroke-width="1.2"/>
<line x1="426.3" y1="307.84" x2="429" y2="307.84" stroke="#000" stroke-width="1.2"/>
<line x1="426.3" y1="304.32" x2="429" y2="304.32" stroke="#000" stroke-width="1.2"/>
<line x1="426.3" y1="286.87" x2="429" y2="286.87" stroke="#000" stroke-width="1.2"/>
<line x1="426.3" y1="279.81" x2="429" y2="279.81" stroke="#000" stroke-width="1.2"/>
<line x1="426.3" y1="275.12" x2="429" y2="275.12" stroke="#000" stroke-width="1.2"/>
<line x1="426.3" y1="271.60" x2="429" y2="271.60" stroke="#000" stroke-width="1.2"/>
<line x1="426.3" y1="254.15" x2="429" y2="254.15" stroke="#000" stroke-width="1.2"/>
<line x1="426.3" y1="247.09" x2="429" y2="247.09" stroke="#000" stroke-width="1.2"/>
<line x1="426.3" y1="242.40" x2="429" y2="242.40" stroke="#000" stroke-width="1.2"/>
<line x1="426.3" y1="238.88" x2="429" y2="238.88" stroke="#000" stroke-width="1.2"/>
<line x1="426.3" y1="221.43" x2="429" y2="221.43" stroke="#000" stroke-width="1.2"/>
<line x1="426.3" y1="214.37" x2="429" y2="214.37" stroke="#000" stroke-width="1.2"/>
<line x1="426.3" y1="209.68" x2="429" y2="209.68" stroke="#000" stroke-width="1.2"/>
<line x1="426.3" y1="206.16" x2="429" y2="206.16" stroke="#000" stroke-width="1.2"/>
<path d="M428.3,334.40 H550.8 M560.8,334.40 H610.1" stroke="#000" stroke-width="1.35" fill="none"/>
<line x1="550.8" y1="331.40" x2="550.8" y2="337.60" stroke="#000" stroke-width="1.3"/>
<line x1="560.8" y1="331.40" x2="560.8" y2="337.60" stroke="#000" stroke-width="1.3"/>
<line x1="450.06" y1="334.40" x2="450.06" y2="338.00" stroke="#000" stroke-width="1.3"/>
<line x1="456.19" y1="334.40" x2="456.19" y2="338.00" stroke="#000" stroke-width="1.3"/>
<line x1="462.31" y1="334.40" x2="462.31" y2="338.00" stroke="#000" stroke-width="1.3"/>
<line x1="535.88" y1="334.40" x2="535.88" y2="338.00" stroke="#000" stroke-width="1.3"/>
<line x1="609.40" y1="334.40" x2="609.40" y2="338.00" stroke="#000" stroke-width="1.3"/>
<text transform="translate(450 346) scale(1 1.06)" font-size="8.5" font-weight="bold" fill="#000" text-anchor="middle" >7</text>
<text transform="translate(457.3 346) scale(1 1.06)" font-size="8.5" font-weight="bold" fill="#000" text-anchor="middle" >9</text>
<text transform="translate(463.7 346) scale(1 1.06)" font-size="8.5" font-weight="bold" fill="#000" text-anchor="middle" letter-spacing="-0.2">11</text>
<text transform="translate(536 346) scale(1 1.06)" font-size="8.5" font-weight="bold" fill="#000" text-anchor="middle" >35</text>
<text transform="translate(610 346) scale(1 1.06)" font-size="8.5" font-weight="bold" fill="#000" text-anchor="middle" >125</text>
<text x="520.5" y="360.5" font-size="10.7" font-weight="bold" fill="#000" text-anchor="middle" >Days Post Immunization</text>
<text transform="translate(401.6,266.6) rotate(-90)" font-size="10.6" font-weight="bold" fill="#000" text-anchor="middle" >VNT (IU/mL)</text>
<line x1="432.4" y1="311.7" x2="613" y2="311.7" stroke="#FF0000" stroke-width="1.55" stroke-linecap="round" stroke-dasharray="0.01 3.98"/>
<text x="615" y="314.3" font-size="6.5" font-weight="bold" fill="#FF0000" text-anchor="start" textLength="68.4" lengthAdjust="spacingAndGlyphs">0.5 IU/mL (WHO std)</text>
<path d="M450,281 L456.3,260.6 L462.3,255 L535.6,239.4 L552.4,239 M559.4,238.8 L609.4,236.6" stroke="#FF0000" stroke-width="1.2" fill="none" stroke-linejoin="round"/>
<path d="M450,276.7 V294.8 M447.3,276.7 h5.4 M447.3,294.8 h5.4" stroke="#FF0000" stroke-width="1.1" fill="none"/>
<path d="M456.3,255.8 V264 M453.6,255.8 h5.4 M453.6,264 h5.4" stroke="#FF0000" stroke-width="1.1" fill="none"/>
<path d="M462.3,253 V260.4 M459.6,253 h5.4 M459.6,260.4 h5.4" stroke="#FF0000" stroke-width="1.1" fill="none"/>
<path d="M535.6,237.6 V241.2 M532.9,237.6 h5.4 M532.9,241.2 h5.4" stroke="#FF0000" stroke-width="1.1" fill="none"/>
<path d="M609.4,234.4 V238.6 M606.6999999999999,234.4 h5.4 M606.6999999999999,238.6 h5.4" stroke="#FF0000" stroke-width="1.1" fill="none"/>
<polygon points="450,284.0 452.6,279.0 447.4,279.0" fill="#FF0000"/>
<polygon points="456.3,263.6 458.90000000000003,258.6 453.7,258.6" fill="#FF0000"/>
<polygon points="462.3,258.0 464.90000000000003,253.0 459.7,253.0" fill="#FF0000"/>
<polygon points="535.6,242.4 538.2,237.4 533.0,237.4" fill="#FF0000"/>
<polygon points="609.4,239.6 612.0,234.6 606.8,234.6" fill="#FF0000"/>
<path d="M450,299.7 L456.3,276 L462.3,265.2 L535.6,256 L552.4,252 M559.4,250 L609.4,240.6" stroke="#00BE00" stroke-width="1.2" fill="none" stroke-linejoin="round"/>
<path d="M450,295.1 V304.3 M447.3,295.1 h5.4 M447.3,304.3 h5.4" stroke="#00BE00" stroke-width="1.1" fill="none"/>
<path d="M456.3,271 V282 M453.6,271 h5.4 M453.6,282 h5.4" stroke="#00BE00" stroke-width="1.1" fill="none"/>
<path d="M462.3,260.8 V272.3 M459.6,260.8 h5.4 M459.6,272.3 h5.4" stroke="#00BE00" stroke-width="1.1" fill="none"/>
<path d="M535.6,252.4 V259.2 M532.9,252.4 h5.4 M532.9,259.2 h5.4" stroke="#00BE00" stroke-width="1.1" fill="none"/>
<path d="M609.4,235.2 V247.4 M606.6999999999999,235.2 h5.4 M606.6999999999999,247.4 h5.4" stroke="#00BE00" stroke-width="1.1" fill="none"/>
<polygon points="450,296.7 452.6,301.7 447.4,301.7" fill="#00BE00"/>
<polygon points="456.3,273.0 458.90000000000003,278.0 453.7,278.0" fill="#00BE00"/>
<polygon points="462.3,262.2 464.90000000000003,267.2 459.7,267.2" fill="#00BE00"/>
<polygon points="535.6,253.0 538.2,258.0 533.0,258.0" fill="#00BE00"/>
<polygon points="609.4,237.6 612.0,242.6 606.8,242.6" fill="#00BE00"/>
<path d="M450,278.9 L456.3,267.7 L462.3,264 L535.6,242.6 L552.4,246 M559.4,249 L609.4,260.4" stroke="#AA08E4" stroke-width="1.2" fill="none" stroke-linejoin="round"/>
<path d="M450,274.5 V286.3 M447.3,274.5 h5.4 M447.3,286.3 h5.4" stroke="#AA08E4" stroke-width="1.1" fill="none"/>
<path d="M456.3,261.3 V279.4 M453.6,261.3 h5.4 M453.6,279.4 h5.4" stroke="#AA08E4" stroke-width="1.1" fill="none"/>
<path d="M462.3,259.7 V270.3 M459.6,259.7 h5.4 M459.6,270.3 h5.4" stroke="#AA08E4" stroke-width="1.1" fill="none"/>
<path d="M535.6,239 V246 M532.9,239 h5.4 M532.9,246 h5.4" stroke="#AA08E4" stroke-width="1.1" fill="none"/>
<path d="M609.4,254 V272.4 M606.6999999999999,254 h5.4 M606.6999999999999,272.4 h5.4" stroke="#AA08E4" stroke-width="1.1" fill="none"/>
<rect x="447.4" y="276.29999999999995" width="5.2" height="5.2" fill="#AA08E4"/>
<rect x="453.7" y="265.09999999999997" width="5.2" height="5.2" fill="#AA08E4"/>
<rect x="459.7" y="261.4" width="5.2" height="5.2" fill="#AA08E4"/>
<rect x="533.0" y="240.0" width="5.2" height="5.2" fill="#AA08E4"/>
<rect x="606.8" y="257.79999999999995" width="5.2" height="5.2" fill="#AA08E4"/>
<path d="M616,236.6 H619.7 V260 H616" stroke="#000" stroke-width="1.4" fill="none"/>
<text x="627.4" y="256.6" font-size="15" font-weight="bold" fill="#000" text-anchor="middle" >*</text>
<text transform="translate(389.7 569) scale(1 1.08)" font-size="13.5" font-weight="normal" fill="#000" text-anchor="start" stroke="#000" stroke-width="0.3">f)</text>
<line x1="430" y1="674.4" x2="550.5" y2="674.4" stroke="#FF0000" stroke-width="1.55" stroke-linecap="round" stroke-dasharray="0.01 3.98"/>
<rect x="439" y="655" width="25.00" height="50.00" fill="#AA08E4"/>
<path d="M451.50,655 V652.4 M445.50,652.4 h12" stroke="#AA08E4" stroke-width="1.4" fill="none"/>
<rect x="476.3" y="632.4" width="25.00" height="72.60" fill="#00BE00"/>
<path d="M488.80,632.4 V627 M482.80,627 h12" stroke="#00BE00" stroke-width="1.4" fill="none"/>
<rect x="513.8" y="609.4" width="24.80" height="95.60" fill="#FF0000"/>
<path d="M526.20,609.4 V603 M520.20,603 h12" stroke="#FF0000" stroke-width="1.4" fill="none"/>
<path d="M426.4,572.10 V705.75" stroke="#000" stroke-width="1.35" fill="none"/>
<path d="M425.7,705 H552" stroke="#000" stroke-width="1.35" fill="none"/>
<line x1="422" y1="705.10" x2="426.4" y2="705.10" stroke="#000" stroke-width="1.3"/>
<text transform="translate(420.8 708.25) scale(1 1.05)" font-size="9.0" font-weight="bold" fill="#000" text-anchor="end" >0.1</text>
<line x1="422" y1="661.00" x2="426.4" y2="661.00" stroke="#000" stroke-width="1.3"/>
<text transform="translate(420.8 664.15) scale(1 1.05)" font-size="9.0" font-weight="bold" fill="#000" text-anchor="end" >1</text>
<line x1="422" y1="616.90" x2="426.4" y2="616.90" stroke="#000" stroke-width="1.3"/>
<text transform="translate(420.8 620.05) scale(1 1.05)" font-size="9.0" font-weight="bold" fill="#000" text-anchor="end" >10</text>
<line x1="422" y1="572.80" x2="426.4" y2="572.80" stroke="#000" stroke-width="1.3"/>
<text transform="translate(420.8 575.95) scale(1 1.05)" font-size="9.0" font-weight="bold" fill="#000" text-anchor="end" >100</text>
<line x1="423.8" y1="685.38" x2="426.4" y2="685.38" stroke="#000" stroke-width="1.2"/>
<line x1="423.8" y1="675.87" x2="426.4" y2="675.87" stroke="#000" stroke-width="1.2"/>
<line x1="423.8" y1="669.55" x2="426.4" y2="669.55" stroke="#000" stroke-width="1.2"/>
<line x1="423.8" y1="664.80" x2="426.4" y2="664.80" stroke="#000" stroke-width="1.2"/>
<line x1="423.8" y1="641.28" x2="426.4" y2="641.28" stroke="#000" stroke-width="1.2"/>
<line x1="423.8" y1="631.77" x2="426.4" y2="631.77" stroke="#000" stroke-width="1.2"/>
<line x1="423.8" y1="625.45" x2="426.4" y2="625.45" stroke="#000" stroke-width="1.2"/>
<line x1="423.8" y1="620.70" x2="426.4" y2="620.70" stroke="#000" stroke-width="1.2"/>
<line x1="423.8" y1="597.18" x2="426.4" y2="597.18" stroke="#000" stroke-width="1.2"/>
<line x1="423.8" y1="587.67" x2="426.4" y2="587.67" stroke="#000" stroke-width="1.2"/>
<line x1="423.8" y1="581.35" x2="426.4" y2="581.35" stroke="#000" stroke-width="1.2"/>
<line x1="423.8" y1="576.60" x2="426.4" y2="576.60" stroke="#000" stroke-width="1.2"/>
<circle cx="443.2" cy="648" r="2.1" fill="#000"/>
<circle cx="451.3" cy="648" r="2.1" fill="#000"/>
<circle cx="443.2" cy="658.5" r="2.1" fill="#000"/>
<circle cx="451.3" cy="658.5" r="2.1" fill="#000"/>
<circle cx="459.3" cy="658.5" r="2.1" fill="#000"/>
<circle cx="451.3" cy="663.7" r="2.1" fill="#000"/>
<circle cx="488.7" cy="616" r="2.1" fill="#000"/>
<circle cx="488.7" cy="626.6" r="2.1" fill="#000"/>
<circle cx="488.7" cy="632.2" r="2.1" fill="#000"/>
<circle cx="488.7" cy="643" r="2.1" fill="#000"/>
<circle cx="488.7" cy="648" r="2.1" fill="#000"/>
<circle cx="488.7" cy="658.6" r="2.1" fill="#000"/>
<circle cx="526.2" cy="590" r="2.1" fill="#000"/>
<circle cx="518.2" cy="605.9" r="2.1" fill="#000"/>
<circle cx="526.2" cy="605.9" r="2.1" fill="#000"/>
<circle cx="526.2" cy="621.6" r="2.1" fill="#000"/>
<circle cx="526.2" cy="637.8" r="2.1" fill="#000"/>
<circle cx="526.2" cy="658.5" r="2.1" fill="#000"/>
<path d="M451.4,637.7 V577.4 H526.2 V584.6" stroke="#000" stroke-width="1.3" fill="none"/>
<text x="489" y="576.3" font-size="15" font-weight="bold" fill="#000" text-anchor="middle" >*</text>
<text x="552" y="676.7" font-size="6.5" font-weight="bold" fill="#FF0000" text-anchor="start" textLength="68.6" lengthAdjust="spacingAndGlyphs">0.5 IU/mL (WHO std)</text>
<text x="487" y="725.4" font-size="10.4" font-weight="bold" fill="#000" text-anchor="middle" >Post Immunization (90 days)</text>
<text transform="translate(403.2,639.1) rotate(-90)" font-size="11.15" font-weight="bold" fill="#000" text-anchor="middle" >VNT (IU/mL)</text>
<rect x="551.2" y="613.9" width="14.6" height="4.8" fill="#AA08E4"/>
<rect x="551.2" y="626.2" width="14.6" height="4.8" fill="#00BE00"/>
<rect x="551.2" y="638.4" width="14.6" height="4.8" fill="#FF0000"/>
<text x="571.6" y="619.1" font-size="6.9" font-weight="bold" fill="#000" text-anchor="start" textLength="113.2" lengthAdjust="spacingAndGlyphs">Inactivated vaccine (human dose)</text>
<text x="571.6" y="631.7" font-size="6.9" font-weight="bold" fill="#000" text-anchor="start" textLength="58.2" lengthAdjust="spacingAndGlyphs">LVRNA001 (10 μg)</text>
<text x="571.6" y="644.0" font-size="6.9" font-weight="bold" fill="#000" text-anchor="start" textLength="58.2" lengthAdjust="spacingAndGlyphs">LVRNA001 (50 μg)</text>
</svg>
</body></html>
